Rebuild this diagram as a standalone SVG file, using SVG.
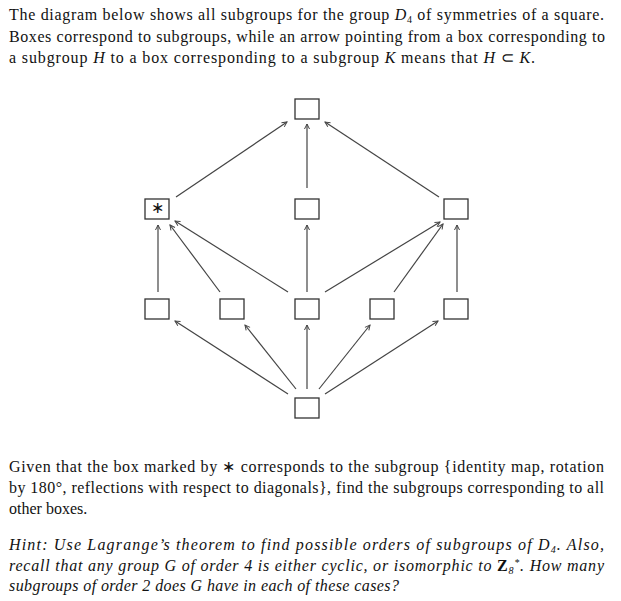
<svg xmlns="http://www.w3.org/2000/svg" width="621" height="601" viewBox="0 0 621 601">
<style>
text{font-family:"Liberation Serif","Times New Roman",serif;font-size:16px;fill:#111}
.it{font-style:italic}
.box rect{fill:#fff;stroke:#333;stroke-width:1.3}
#edges line{stroke:#444;stroke-width:1.2;marker-end:url(#ah)}
</style>
<defs>
<marker id="ah" markerWidth="8" markerHeight="8" refX="6" refY="4" orient="auto" markerUnits="userSpaceOnUse">
<path d="M1,1.5 L6,4 L1,6.5" fill="none" stroke="#444" stroke-width="1"/>
</marker>
</defs>
<rect width="621" height="601" fill="#fff"/>
<text x="9" y="20" textLength="595" lengthAdjust="spacing">The diagram below shows all subgroups for the group <tspan class="it">D</tspan><tspan font-size="10" dy="3">4</tspan><tspan dy="-3"> of symmetries of a square.</tspan></text>
<text x="9" y="42" textLength="596" lengthAdjust="spacing">Boxes correspond to subgroups, while an arrow pointing from a box corresponding to</text>
<text x="9" y="63" textLength="526" lengthAdjust="spacing">a subgroup <tspan class="it">H</tspan> to a box corresponding to a subgroup <tspan class="it">K</tspan> means that <tspan class="it">H</tspan> ⊂ <tspan class="it">K</tspan>.</text>

<g id="n-top" class="box"><rect x="295" y="99" width="24" height="20"/></g>
<g id="n-l2" class="box"><rect x="145" y="199" width="24" height="20"/><text x="157" y="213" text-anchor="middle" font-size="11">∗</text></g>
<g id="n-m2" class="box"><rect x="295" y="199" width="24" height="20"/></g>
<g id="n-r2" class="box"><rect x="444" y="199" width="24" height="20"/></g>
<g id="n-a3" class="box"><rect x="145" y="299" width="24" height="20"/></g>
<g id="n-b3" class="box"><rect x="220" y="299" width="24" height="20"/></g>
<g id="n-c3" class="box"><rect x="295" y="299" width="24" height="20"/></g>
<g id="n-d3" class="box"><rect x="370" y="299" width="24" height="20"/></g>
<g id="n-e3" class="box"><rect x="444" y="299" width="24" height="20"/></g>
<g id="n-bot" class="box"><rect x="295" y="398" width="24" height="20"/></g>

<g id="edges">
<line x1="176" y1="197" x2="287" y2="122"/>
<line x1="307" y1="188" x2="307" y2="124"/>
<line x1="439" y1="197" x2="325" y2="122"/>
<line x1="158" y1="292" x2="158" y2="225"/>
<line x1="220" y1="292" x2="170" y2="225"/>
<line x1="288" y1="292" x2="175" y2="221"/>
<line x1="307" y1="292" x2="307" y2="225"/>
<line x1="325" y1="292" x2="440" y2="222"/>
<line x1="394" y1="292" x2="443" y2="224"/>
<line x1="457" y1="292" x2="457" y2="225"/>
<line x1="288" y1="394" x2="175" y2="321"/>
<line x1="296" y1="389" x2="245" y2="325"/>
<line x1="307" y1="389" x2="307" y2="325"/>
<line x1="319" y1="389" x2="370" y2="325"/>
<line x1="325" y1="394" x2="438" y2="321"/>
</g>

<text x="9" y="472" textLength="595" lengthAdjust="spacing">Given that the box marked by ∗ corresponds to the subgroup {identity map, rotation</text>
<text x="9" y="493" textLength="595" lengthAdjust="spacing">by 180°, reflections with respect to diagonals}, find the subgroups corresponding to all</text>
<text x="9" y="514">other boxes.</text>
<text class="it" x="9" y="550" textLength="595" lengthAdjust="spacing">Hint:  Use Lagrange’s theorem to find possible orders of subgroups of D<tspan font-size="10" dy="3">4</tspan><tspan dy="-3">.  Also,</tspan></text>
<text class="it" x="9" y="571" textLength="595" lengthAdjust="spacing">recall that any group G of order 4 is either cyclic, or isomorphic to <tspan font-style="normal" font-weight="bold">Z</tspan><tspan font-size="10" dy="3">8</tspan><tspan font-size="10" dy="-8">*</tspan><tspan dy="5">.  How many</tspan></text>
<text class="it" x="9" y="591" textLength="390" lengthAdjust="spacing">subgroups of order 2 does G have in each of these cases?</text>
</svg>
